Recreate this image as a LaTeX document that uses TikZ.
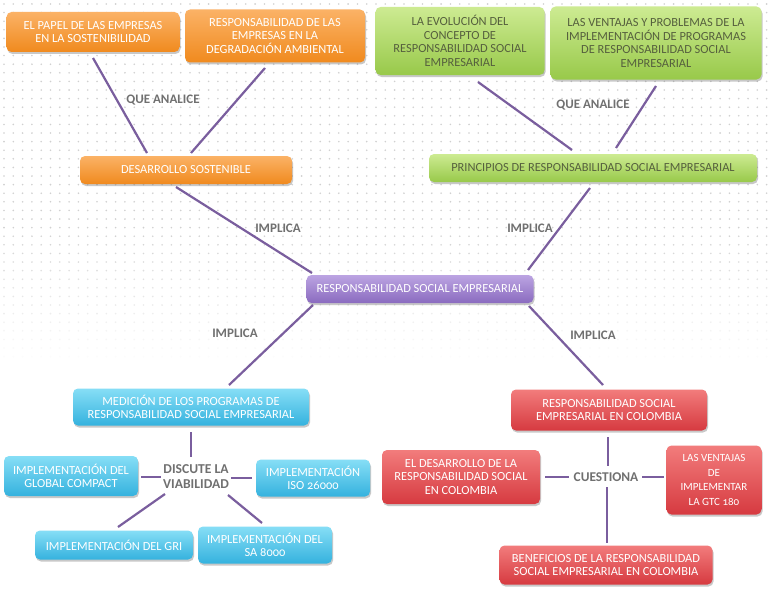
\documentclass[tikz,border=0pt]{standalone}
\usepackage{fontspec}
\setmainfont{Carlito}
\usetikzlibrary{calc,shadows}
\definecolor{orT}{HTML}{FBB266}\definecolor{orB}{HTML}{F08A1E}
\definecolor{grT}{HTML}{CDEB92}\definecolor{grB}{HTML}{98C94A}
\definecolor{blT}{HTML}{86DEF6}\definecolor{blB}{HTML}{35B2DE}
\definecolor{rdT}{HTML}{F27C7C}\definecolor{rdB}{HTML}{D63A40}
\definecolor{puT}{HTML}{BCA4E2}\definecolor{puB}{HTML}{8A6BBF}
\definecolor{grtext}{HTML}{56603E}
\definecolor{lbl}{HTML}{707070}
\definecolor{conn}{HTML}{7A5E9E}
\definecolor{dotc}{HTML}{D0D0D0}
\begin{document}
\begin{tikzpicture}[x=1pt,y=-1pt,
  box/.style={rounded corners=5pt, draw=none, align=center, text=white,
    font=\fontsize{12.4}{13.6}\selectfont, inner sep=2pt,
    drop shadow={shadow xshift=1pt, shadow yshift=-2pt, opacity=0.3, fill=black!70}},
  orbox/.style={box, top color=orT, bottom color=orB},
  grbox/.style={box, top color=grT, bottom color=grB, text=grtext},
  blbox/.style={box, top color=blT, bottom color=blB},
  rdbox/.style={box, top color=rdT, bottom color=rdB},
  pubox/.style={box, top color=puT, bottom color=puB},
  lab/.style={font=\bfseries\fontsize{13}{14}\selectfont, text=lbl, inner sep=1pt, align=center},
  con/.style={draw=conn, line width=2.2pt}]
\useasboundingbox (0,0) rectangle (768,594);
\fill[white] (0,0) rectangle (768,594);
% dotted background
\foreach \j in {0,...,42}{
  \pgfmathsetmacro\op{max(0,min(1,(42-\j)/16))}
  \foreach \i in {0,...,83}{
    \fill[dotc, opacity=\op] ({\i*9.3+4},{\j*8.6+4}) circle (0.9);
  }
}
% nodes
\node[orbox, minimum width=173, minimum height=40] (b1) at (93,32) {EL PAPEL DE LAS EMPRESAS\\EN LA SOSTENIBILIDAD};
\node[orbox, minimum width=180, minimum height=53] (b2) at (275,36) {RESPONSABILIDAD DE LAS\\EMPRESAS EN LA\\DEGRADACIÓN AMBIENTAL};
\node[grbox, minimum width=169, minimum height=68] (b3) at (460,41) {LA EVOLUCIÓN DEL\\CONCEPTO DE\\RESPONSABILIDAD SOCIAL\\EMPRESARIAL};
\node[grbox, minimum width=211, minimum height=73] (b4) at (656,43) {LAS VENTAJAS Y PROBLEMAS DE LA\\IMPLEMENTACIÓN DE PROGRAMAS\\DE RESPONSABILIDAD SOCIAL\\EMPRESARIAL};
\node[orbox, minimum width=212, minimum height=28] (ds) at (186,170) {DESARROLLO SOSTENIBLE};
\node[grbox, minimum width=328, minimum height=28] (pr) at (593,168) {PRINCIPIOS DE RESPONSABILIDAD SOCIAL EMPRESARIAL};
\node[pubox, minimum width=227, minimum height=28] (rse) at (420,289) {RESPONSABILIDAD SOCIAL EMPRESARIAL};
\node[blbox, minimum width=236, minimum height=37] (med) at (191,407) {MEDICIÓN DE LOS PROGRAMAS DE\\RESPONSABILIDAD SOCIAL EMPRESARIAL};
\node[rdbox, minimum width=196, minimum height=41] (col) at (609,410) {RESPONSABILIDAD SOCIAL\\EMPRESARIAL EN COLOMBIA};
\node[blbox, minimum width=134, minimum height=40] (gc) at (71,476) {IMPLEMENTACIÓN DEL\\GLOBAL COMPACT};
\node[lab, font=\bfseries\fontsize{13.6}{15}\selectfont] (disc) at (196,477) {DISCUTE LA\\VIABILIDAD};
\node[blbox, minimum width=114, minimum height=37] (iso) at (313,478) {IMPLEMENTACIÓN\\{\addfontfeatures{Numbers=OldStyle}ISO 26000}};
\node[blbox, minimum width=158, minimum height=29] (gri) at (114,545) {IMPLEMENTACIÓN DEL GRI};
\node[blbox, minimum width=134, minimum height=37] (sa) at (265,545) {IMPLEMENTACIÓN DEL\\{\addfontfeatures{Numbers=OldStyle}SA 8000}};
\node[rdbox, minimum width=158, minimum height=54] (dev) at (461,477) {EL DESARROLLO DE LA\\RESPONSABILIDAD SOCIAL\\EN COLOMBIA};
\node[lab, font=\bfseries\fontsize{13.4}{15}\selectfont] (cue) at (606,477) {CUESTIONA};
\node[rdbox, minimum width=95, minimum height=69, font=\fontsize{11}{14.5}\selectfont] (gtc) at (714,480) {LAS VENTAJAS\\DE\\IMPLEMENTAR\\{\addfontfeatures{Numbers=OldStyle}LA GTC 180}};
\node[rdbox, minimum width=213, minimum height=39] (ben) at (606,565) {BENEFICIOS DE LA RESPONSABILIDAD\\SOCIAL EMPRESARIAL EN COLOMBIA};
% labels
\node[lab] (l1) at (163,100) {QUE ANALICE};
\node[lab] (l2) at (593,105) {QUE ANALICE};
\node[lab] (l3) at (278,228) {IMPLICA};
\node[lab] (l4) at (530,228) {IMPLICA};
\node[lab] (l5) at (235,333) {IMPLICA};
\node[lab] (l6) at (593,335) {IMPLICA};
% connectors
\draw[con] ($(b1)+(0,26)$) -- ($(ds)+(-39,-17)$);
\draw[con] ($(b2)+(-10,32)$) -- ($(ds)+(5,-17)$);
\draw[con] ($(ds)+(-10,17)$) -- ($(rse)+(-108,-16)$);
\draw[con] ($(b3)+(18,41)$) -- ($(pr)+(-21,-18)$);
\draw[con] ($(b4)+(0,43)$) -- ($(pr)+(23,-20)$);
\draw[con] ($(pr)+(-3,20)$) -- ($(rse)+(108,-19)$);
\draw[con] ($(rse)+(-107,16)$) -- ($(med)+(38,-22)$);
\draw[con] ($(rse)+(109,17)$) -- ($(col)+(-6,-25)$);
\draw[con] ($(med)+(0,25)$) -- ($(disc)+(-5,-20)$);
\draw[con] ($(gc)+(70,1)$) -- ($(disc)+(-35,0)$);
\draw[con] ($(disc)+(35,1)$) -- ($(iso)+(-61,0)$);
\draw[con] ($(disc)+(-31,17)$) -- ($(gri)+(4,-18)$);
\draw[con] ($(disc)+(32,18)$) -- ($(sa)+(-3,-22)$);
\draw[con] ($(col)+(-1,27)$) -- ($(cue)+(2,-11)$);
\draw[con] ($(dev)+(84,0)$) -- ($(cue)+(-37,0)$);
\draw[con] ($(cue)+(36,0)$) -- ($(gtc)+(-50,-3)$);
\draw[con] ($(cue)+(1,10)$) -- ($(ben)+(1,-22)$);
\end{tikzpicture}
\end{document}
